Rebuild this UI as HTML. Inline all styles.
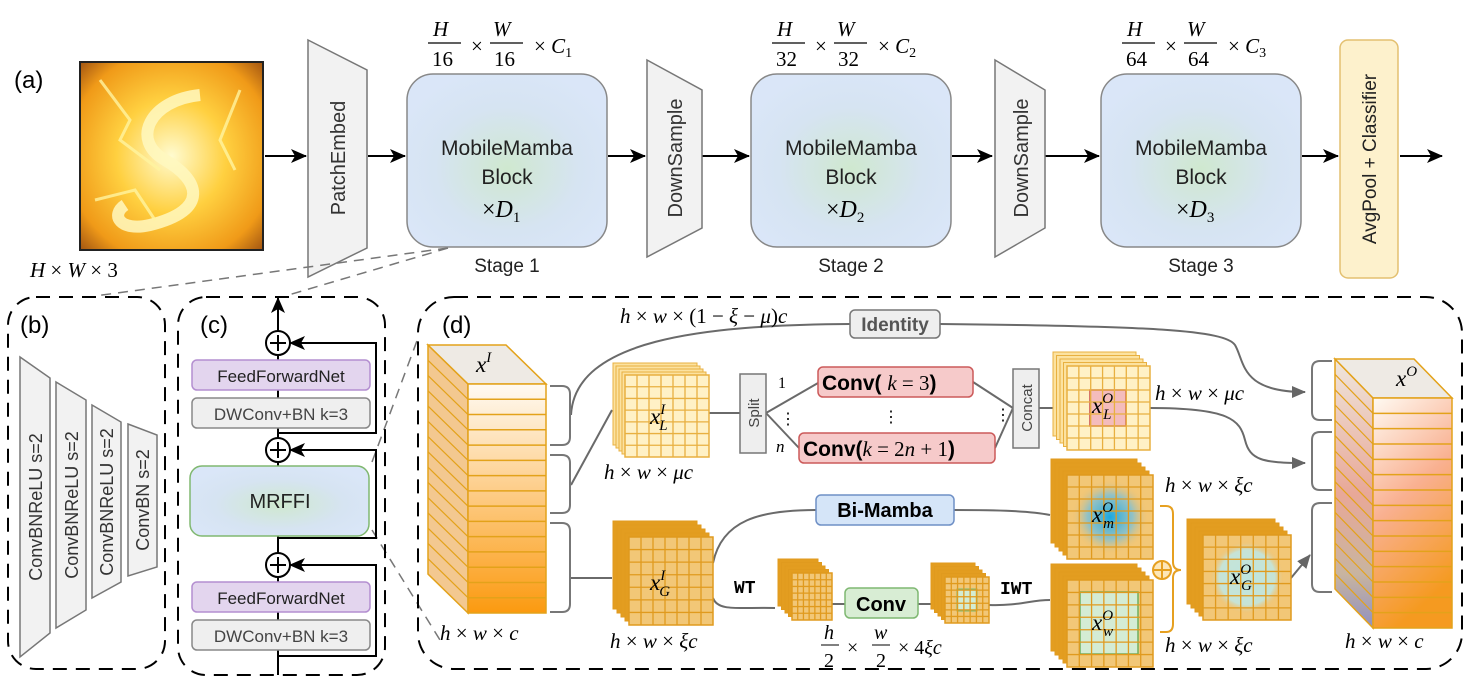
<!DOCTYPE html>
<html><head><meta charset="utf-8"><style>
html,body{margin:0;padding:0;background:#fff}
svg{display:block}
.s{font-family:"Liberation Sans",sans-serif}
.m{font-family:"Liberation Serif",serif;font-style:italic}
.r{font-family:"Liberation Serif",serif}
</style></head><body>
<svg id="g" width="1468" height="692" viewBox="0 0 1468 692" xmlns="http://www.w3.org/2000/svg">
<defs>
<radialGradient id="stg" cx="50%" cy="55%" r="60%"><stop offset="0" stop-color="#cfe8cf"/><stop offset="0.6" stop-color="#d6e4f2"/><stop offset="1" stop-color="#dae6f8"/></radialGradient>
<radialGradient id="img" cx="50%" cy="50%" r="75%"><stop offset="0" stop-color="#fffbd0"/><stop offset="0.4" stop-color="#ffd040"/><stop offset="0.75" stop-color="#f09a18"/><stop offset="1" stop-color="#8a4010"/></radialGradient>
<linearGradient id="xi" x1="0" y1="0" x2="0" y2="1"><stop offset="0" stop-color="#fffaf2"/><stop offset="1" stop-color="#fb9a10"/></linearGradient>
<linearGradient id="xo" x1="0" y1="0" x2="0.3" y2="1"><stop offset="0" stop-color="#fffaf2"/><stop offset="0.5" stop-color="#f9b090"/><stop offset="1" stop-color="#f59a20"/></linearGradient>
<linearGradient id="xos" x1="0" y1="0" x2="0" y2="1"><stop offset="0" stop-color="#efe6dc"/><stop offset="0.5" stop-color="#e8a898"/><stop offset="0.8" stop-color="#c8b4a0"/><stop offset="1" stop-color="#9090c0"/></linearGradient>
<radialGradient id="blu" cx="50%" cy="50%" r="50%"><stop offset="0" stop-color="#1aa8e0"/><stop offset="0.6" stop-color="#7cc0d8" stop-opacity="0.8"/><stop offset="1" stop-color="#f0c070" stop-opacity="0"/></radialGradient>
<radialGradient id="gg" cx="50%" cy="50%" r="50%"><stop offset="0" stop-color="#bfe6df"/><stop offset="0.75" stop-color="#c6e3d6"/><stop offset="1" stop-color="#f0c070" stop-opacity="0"/></radialGradient>
<marker id="ar" markerWidth="16" markerHeight="14" refX="15" refY="7" orient="auto" markerUnits="userSpaceOnUse"><path d="M0,0 L16,7 L0,14 L4,7 z" fill="#000"/></marker>
<marker id="ag" markerWidth="14" markerHeight="12" refX="13" refY="6" orient="auto" markerUnits="userSpaceOnUse"><path d="M0,0 L14,6 L0,12 z" fill="#666"/></marker>
</defs>

<text x="14" y="88" class="s" font-size="24">(a)</text>
<rect x="80" y="62" width="183" height="188" fill="url(#img)" stroke="#222" stroke-width="2"/>
<path d="M200,95 C150,100 130,140 165,160 C200,180 210,210 150,225 C120,232 110,215 125,205" stroke="#fff8c0" stroke-width="12" fill="none" opacity="0.85"/>
<path d="M100,80 l30,40 -10,20 40,30 M240,90 l-20,50 15,30 M95,200 l40,-10 20,30" stroke="#fff4a0" stroke-width="3" fill="none" opacity="0.8"/>
<text x="30" y="277" class="m" font-size="21">H <tspan class="r" font-style="normal">×</tspan> W <tspan class="r" font-style="normal">× 3</tspan></text>

<g stroke="#000" stroke-width="2" marker-end="url(#ar)">
<line x1="265" y1="156" x2="306" y2="156"/>
<line x1="368" y1="156" x2="405" y2="156"/>
<line x1="608" y1="156" x2="645" y2="156"/>
<line x1="702" y1="156" x2="749" y2="156"/>
<line x1="952" y1="156" x2="992" y2="156"/>
<line x1="1045" y1="156" x2="1099" y2="156"/>
<line x1="1302" y1="156" x2="1338" y2="156"/>
<line x1="1400" y1="156" x2="1442" y2="156"/>
</g>

<polygon points="308,40 367,70 367,248 308,277" fill="#f2f2f2" stroke="#777" stroke-width="1.5"/>
<text transform="translate(345,158) rotate(-90)" text-anchor="middle" class="s" font-size="20" fill="#333">PatchEmbed</text>
<polygon points="647,60 702,90 702,228 647,257" fill="#f2f2f2" stroke="#777" stroke-width="1.5"/>
<text transform="translate(682,158) rotate(-90)" text-anchor="middle" class="s" font-size="20" fill="#333">DownSample</text>
<polygon points="995,60 1045,90 1045,228 995,257" fill="#f2f2f2" stroke="#777" stroke-width="1.5"/>
<text transform="translate(1028,158) rotate(-90)" text-anchor="middle" class="s" font-size="20" fill="#333">DownSample</text>

<rect x="1340" y="40" width="58" height="238" rx="8" fill="#fdf1cc" stroke="#e3c070" stroke-width="1.5"/>
<text transform="translate(1376,159) rotate(-90)" text-anchor="middle" class="s" font-size="19" fill="#222">AvgPool + Classifier</text>

<g stroke="#777" stroke-width="1.5" stroke-dasharray="10,7" fill="none">
<line x1="448" y1="248" x2="95" y2="296"/>
<line x1="448" y1="248" x2="285" y2="296"/>
<line x1="372" y1="462" x2="418" y2="338"/>
<line x1="372" y1="530" x2="440" y2="640"/>
</g>

<rect x="8" y="297" width="157" height="372" rx="28" fill="none" stroke="#000" stroke-width="2" stroke-dasharray="14,9"/>
<text x="20" y="333" class="s" font-size="24">(b)</text>
<g fill="#f2f2f2" stroke="#777" stroke-width="1.5">
<polygon points="20,357 50,378 50,633 20,657"/>
<polygon points="56,382 86,400 86,610 56,628"/>
<polygon points="92,405 121,422 121,582 92,598"/>
<polygon points="128,424 157,435 157,567 128,576"/>
</g>
<g class="s" font-size="18" fill="#333" text-anchor="middle">
<text transform="translate(42,507) rotate(-90)">ConvBNReLU s=2</text>
<text transform="translate(78,505) rotate(-90)">ConvBNReLU s=2</text>
<text transform="translate(113,502) rotate(-90)">ConvBNReLU s=2</text>
<text transform="translate(149,500) rotate(-90)">ConvBN s=2</text>
</g>

<rect x="178" y="297" width="207" height="378" rx="28" fill="none" stroke="#000" stroke-width="2" stroke-dasharray="14,9"/>
<text x="200" y="333" class="s" font-size="24">(c)</text>
<g stroke="#000" stroke-width="2" fill="none">
<line x1="278" y1="331" x2="278" y2="298" marker-end="url(#ar)"/>
<line x1="278" y1="355" x2="278" y2="438"/>
<line x1="278" y1="462" x2="278" y2="553"/>
<line x1="278" y1="577" x2="278" y2="675"/>
<polyline points="278,433 376,433 376,343 290,343" marker-end="url(#ar)"/>
<polyline points="278,538 376,538 376,450 290,450" marker-end="url(#ar)"/>
<polyline points="278,656 376,656 376,565 290,565" marker-end="url(#ar)"/>
</g>
<g fill="#fff" stroke="#000" stroke-width="2">
<circle cx="278" cy="343" r="12"/><circle cx="278" cy="450" r="12"/><circle cx="278" cy="565" r="12"/>
</g>
<g stroke="#000" stroke-width="2">
<path d="M270,343h16M278,335v16M270,450h16M278,442v16M270,565h16M278,557v16"/>
</g>
<rect x="192" y="360" width="178" height="30" rx="5" fill="#e3d5ee" stroke="#b48fd0" stroke-width="1.5"/>
<text x="281" y="382" text-anchor="middle" class="s" font-size="17" fill="#222">FeedForwardNet</text>
<rect x="192" y="398" width="178" height="30" rx="5" fill="#efefef" stroke="#888" stroke-width="1.5"/>
<text x="281" y="420" text-anchor="middle" class="s" font-size="17" fill="#444">DWConv+BN k=3</text>
<rect x="190" y="466" width="179" height="70" rx="12" fill="url(#stg)" stroke="#80b870" stroke-width="1.5"/>
<text x="280" y="508" text-anchor="middle" class="s" font-size="20" fill="#222">MRFFI</text>
<rect x="192" y="582" width="178" height="30" rx="5" fill="#e3d5ee" stroke="#b48fd0" stroke-width="1.5"/>
<text x="281" y="604" text-anchor="middle" class="s" font-size="17" fill="#222">FeedForwardNet</text>
<rect x="192" y="620" width="178" height="30" rx="5" fill="#efefef" stroke="#888" stroke-width="1.5"/>
<text x="281" y="642" text-anchor="middle" class="s" font-size="17" fill="#444">DWConv+BN k=3</text>

<rect x="418" y="297" width="1044" height="372" rx="36" fill="none" stroke="#000" stroke-width="2" stroke-dasharray="14,9"/>
<text x="442" y="333" class="s" font-size="24">(d)</text>

<g stroke="#6a6a6a" stroke-width="2" fill="none">
<path d="M571,415 C575,340 700,325 850,324"/>
<path d="M940,324 C1150,326 1225,330 1235,345 C1245,362 1240,392 1305,392" marker-end="url(#ag)"/>
<path d="M1150,408 C1230,408 1240,420 1245,440 C1250,460 1262,463 1305,463" marker-end="url(#ag)"/>
<line x1="571" y1="485" x2="612" y2="410"/>
<line x1="571" y1="578" x2="612" y2="578"/>
<line x1="709" y1="413" x2="740" y2="413"/>
<line x1="766" y1="413" x2="818" y2="383"/>
<line x1="766" y1="413" x2="799" y2="448"/>
<line x1="973" y1="382" x2="1013" y2="408"/>
<line x1="995" y1="448" x2="1013" y2="408"/>
<line x1="1039" y1="408" x2="1053" y2="408"/>
<path d="M713,563 C722,520 760,510 816,510"/>
<path d="M954,510 C1000,510 1030,511 1050,515"/>
<path d="M713,598 C718,612 740,607 775,608"/>
<line x1="832" y1="604" x2="845" y2="604"/>
<line x1="918" y1="604" x2="935" y2="604"/>
<path d="M989,605 C1020,606 1030,600 1050,600"/>
<line x1="1291" y1="578" x2="1310" y2="555" marker-end="url(#ag)"/>
</g>
<g stroke="#777" stroke-width="2" fill="none">
<path d="M550,386 h12 q8,0 8,8 v43 q0,8 -8,8 h-12"/>
<path d="M550,455 h12 q8,0 8,8 v42 q0,8 -8,8 h-12"/>
<path d="M550,523 h12 q8,0 8,8 v73 q0,8 -8,8 h-12"/>
<path d="M1332,361 h-12 q-8,0 -8,8 v43 q0,8 8,8 h12"/>
<path d="M1332,432 h-12 q-8,0 -8,8 v42 q0,8 8,8 h12"/>
<path d="M1332,503 h-12 q-8,0 -8,8 v73 q0,8 8,8 h12"/>
</g>
<path d="M1160,506 h6 q7,0 7,8 v48 q0,8 8,8 q-8,0 -8,8 v46 q0,8 -7,8 h-6" stroke="#e6a020" stroke-width="2" fill="none"/>
<circle cx="1162" cy="570" r="9" fill="#fde7b8" stroke="#e6a020" stroke-width="2"/>
<path d="M1153,570h18M1162,561v18" stroke="#e6a020" stroke-width="2"/>

<g id="cubes"></g>

<rect x="850" y="310" width="90" height="28" rx="5" fill="#eee" stroke="#777" stroke-width="1.5"/>
<text x="895" y="331" text-anchor="middle" class="s" font-size="19" font-weight="bold" fill="#555">Identity</text>
<rect x="740" y="374" width="26" height="79" fill="#eee" stroke="#777" stroke-width="1.5"/>
<text transform="translate(759,413) rotate(-90)" text-anchor="middle" class="s" font-size="15" fill="#444">Split</text>
<rect x="818" y="367" width="155" height="30" rx="5" fill="#f6caca" stroke="#cc5a5a" stroke-width="1.5"/>
<text x="822" y="390" class="s" font-size="21" font-weight="bold">Conv( <tspan class="m" font-weight="normal">k</tspan><tspan class="r" font-weight="normal"> = 3</tspan>)</text>
<rect x="799" y="433" width="196" height="30" rx="5" fill="#f6caca" stroke="#cc5a5a" stroke-width="1.5"/>
<text x="803" y="456" class="s" font-size="21" font-weight="bold">Conv(<tspan class="m" font-weight="normal">k</tspan><tspan class="r" font-weight="normal"> = 2</tspan><tspan class="m" font-weight="normal">n</tspan><tspan class="r" font-weight="normal"> + 1</tspan>)</text>
<rect x="1013" y="369" width="26" height="79" fill="#eee" stroke="#777" stroke-width="1.5"/>
<text transform="translate(1032,408) rotate(-90)" text-anchor="middle" class="s" font-size="15" fill="#444">Concat</text>
<rect x="816" y="495" width="138" height="30" rx="5" fill="#d5e5f8" stroke="#6f90c6" stroke-width="1.5"/>
<text x="885" y="517" text-anchor="middle" class="s" font-size="20" font-weight="bold">Bi-Mamba</text>
<rect x="845" y="588" width="73" height="30" rx="5" fill="#d8edd4" stroke="#7fb872" stroke-width="1.5"/>
<text x="881" y="611" text-anchor="middle" class="s" font-size="20" font-weight="bold">Conv</text>

<g class="r" font-size="21">
<text x="620" y="323"><tspan class="m">h</tspan> × <tspan class="m">w</tspan> × (1 − <tspan class="m">ξ</tspan> − <tspan class="m">μ</tspan>)<tspan class="m">c</tspan></text>
<text x="440" y="640"><tspan class="m">h</tspan> × <tspan class="m">w</tspan> × <tspan class="m">c</tspan></text>
<text x="604" y="479"><tspan class="m">h</tspan> × <tspan class="m">w</tspan> × <tspan class="m">μc</tspan></text>
<text x="610" y="648"><tspan class="m">h</tspan> × <tspan class="m">w</tspan> × <tspan class="m">ξc</tspan></text>
<text x="1155" y="400"><tspan class="m">h</tspan> × <tspan class="m">w</tspan> × <tspan class="m">μc</tspan></text>
<text x="1165" y="492"><tspan class="m">h</tspan> × <tspan class="m">w</tspan> × <tspan class="m">ξc</tspan></text>
<text x="1165" y="652"><tspan class="m">h</tspan> × <tspan class="m">w</tspan> × <tspan class="m">ξc</tspan></text>
<text x="1345" y="648"><tspan class="m">h</tspan> × <tspan class="m">w</tspan> × <tspan class="m">c</tspan></text>
<text x="778" y="388" font-size="16">1</text>
<text x="776" y="452" class="m" font-size="17">n</text>
<text x="780" y="424" font-size="16">⋮</text>
<text x="883" y="422" font-size="16">⋮</text>
<text x="995" y="420" font-size="16">⋮</text>
<text x="824" y="639" class="m" font-size="20">h</text><line x1="821" y1="645" x2="839" y2="645" stroke="#000"/><text x="824" y="667" font-size="20">2</text>
<text x="847" y="654" font-size="20">×</text>
<text x="874" y="639" class="m" font-size="20">w</text><line x1="872" y1="645" x2="890" y2="645" stroke="#000"/><text x="876" y="667" font-size="20">2</text>
<text x="898" y="654" font-size="20">× 4<tspan class="m">ξc</tspan></text>
</g>
<text x="734" y="593" font-family="Liberation Mono,monospace" font-size="18" font-weight="bold">WT</text>
<text x="1000" y="594" font-family="Liberation Mono,monospace" font-size="18" font-weight="bold">IWT</text>
<g class="m" font-size="23">
<text x="476" y="372">x<tspan font-size="15" dy="-10">I</tspan></text>
<text x="1396" y="386">x<tspan font-size="15" dy="-10">O</tspan></text>
<text x="650" y="424">x<tspan font-size="15" dy="-10">I</tspan><tspan font-size="15" dx="-6" dy="16">L</tspan></text>
<text x="650" y="590">x<tspan font-size="15" dy="-10">I</tspan><tspan font-size="15" dx="-6" dy="16">G</tspan></text>
<text x="1092" y="413">x<tspan font-size="15" dy="-10">O</tspan><tspan font-size="15" dx="-10" dy="16">L</tspan></text>
<text x="1092" y="522">x<tspan font-size="15" dy="-10">O</tspan><tspan font-size="15" dx="-10" dy="16">m</tspan></text>
<text x="1092" y="630">x<tspan font-size="15" dy="-10">O</tspan><tspan font-size="15" dx="-10" dy="16">w</tspan></text>
<text x="1230" y="584">x<tspan font-size="15" dy="-10">O</tspan><tspan font-size="15" dx="-10" dy="16">G</tspan></text>
</g>

<g class="r" font-size="21">
<text x="433" y="36" class="m">H</text><line x1="428" y1="43" x2="461" y2="43" stroke="#000" stroke-width="1.2"/><text x="432" y="66">16</text>
<text x="471" y="53">×</text>
<text x="493" y="36" class="m">W</text><line x1="490" y1="43" x2="523" y2="43" stroke="#000" stroke-width="1.2"/><text x="494" y="66">16</text>
<text x="534" y="53">× <tspan class="m">C</tspan><tspan font-size="14" dy="4">1</tspan></text>

<text x="777" y="36" class="m">H</text><line x1="772" y1="43" x2="805" y2="43" stroke="#000" stroke-width="1.2"/><text x="776" y="66">32</text>
<text x="815" y="53">×</text>
<text x="837" y="36" class="m">W</text><line x1="834" y1="43" x2="867" y2="43" stroke="#000" stroke-width="1.2"/><text x="838" y="66">32</text>
<text x="878" y="53">× <tspan class="m">C</tspan><tspan font-size="14" dy="4">2</tspan></text>

<text x="1127" y="36" class="m">H</text><line x1="1122" y1="43" x2="1155" y2="43" stroke="#000" stroke-width="1.2"/><text x="1126" y="66">64</text>
<text x="1165" y="53">×</text>
<text x="1187" y="36" class="m">W</text><line x1="1184" y1="43" x2="1217" y2="43" stroke="#000" stroke-width="1.2"/><text x="1188" y="66">64</text>
<text x="1228" y="53">× <tspan class="m">C</tspan><tspan font-size="14" dy="4">3</tspan></text>
</g>

<rect x="407" y="74" width="200" height="173" rx="26" fill="url(#stg)" stroke="#888" stroke-width="1.5"/>
<rect x="751" y="74" width="200" height="173" rx="26" fill="url(#stg)" stroke="#888" stroke-width="1.5"/>
<rect x="1101" y="74" width="200" height="173" rx="26" fill="url(#stg)" stroke="#888" stroke-width="1.5"/>
<g class="s" font-size="21" text-anchor="middle" fill="#222">
<text x="507" y="155">MobileMamba</text><text x="507" y="184">Block</text>
<text x="851" y="155">MobileMamba</text><text x="851" y="184">Block</text>
<text x="1201" y="155">MobileMamba</text><text x="1201" y="184">Block</text>
<text x="507" y="272" font-size="19">Stage 1</text>
<text x="851" y="272" font-size="19">Stage 2</text>
<text x="1201" y="272" font-size="19">Stage 3</text>
</g>
<g class="r" font-size="24">
<text x="482" y="217">×<tspan class="m">D</tspan><tspan font-size="15" dy="5">1</tspan></text>
<text x="826" y="217">×<tspan class="m">D</tspan><tspan font-size="15" dy="5">2</tspan></text>
<text x="1176" y="217">×<tspan class="m">D</tspan><tspan font-size="15" dy="5">3</tspan></text>
</g>
</svg>
<script>
(function(){
var NS="http://www.w3.org/2000/svg",g=document.getElementById("cubes");
function el(t,a,p){var e=document.createElementNS(NS,t);for(var k in a)e.setAttribute(k,a[k]);(p||g).appendChild(e);return e;}
function block(x0,y0,fx1,fy1,fx2,fy2,fill,side,top){
 var dx=fx1-x0,dy=fy1-y0,n=15,h=(fy2-fy1)/n;
 el("polygon",{points:[x0,y0,fx1,fy1,fx1,fy2,x0,fy2-dy].join(","),fill:side,stroke:"#e3a21a","stroke-width":1.5});
 for(var i=1;i<n;i++){el("line",{x1:x0,y1:y0+i*h,x2:fx1,y2:fy1+i*h,stroke:"#e3a21a","stroke-width":1.2});}
 el("polygon",{points:[x0,y0,x0+(fx2-fx1),y0,fx2,fy1,fx1,fy1].join(","),fill:top,stroke:"#e3a21a","stroke-width":1.5});
 el("rect",{x:fx1,y:fy1,width:fx2-fx1,height:fy2-fy1,fill:fill,stroke:"#e3a21a","stroke-width":1.5});
 for(var i=1;i<n;i++){el("line",{x1:fx1,y1:fy1+i*h,x2:fx2,y2:fy1+i*h,stroke:"#e3a21a","stroke-width":1.5});}
}
block(428,345,468,384,546,613,"url(#xi)","#f3c890","#eeeae4");
block(1335,359,1373,398,1452,628,"url(#xo)","url(#xos)","#eeeae4");
function cube(x1,y1,x2,y2,d,face,line,back,inner){
 var L=4;
 for(var i=L;i>=1;i--){var o=i*d/L;
  el("rect",{x:x1-o,y:y1-o,width:x2-x1,height:y2-y1,fill:back,stroke:line,"stroke-width":1});}
 el("rect",{x:x1,y:y1,width:x2-x1,height:y2-y1,fill:face,stroke:line,"stroke-width":1.5});
 if(inner)inner();
 var n=7,w=(x2-x1)/n,h=(y2-y1)/n;
 for(var i=1;i<n;i++){
  el("line",{x1:x1+i*w,y1:y1,x2:x1+i*w,y2:y2,stroke:line,"stroke-width":1.3});
  el("line",{x1:x1,y1:y1+i*h,x2:x2,y2:y1+i*h,stroke:line,"stroke-width":1.3});}
}
cube(625,375,709,457,12,"#fff1c6","#e8b040","#fce2a0");
cube(629,537,713,625,16,"#f2c777","#e09a1e","#e39d20");
cube(792,573,832,620,14,"#f2c777","#e09a1e","#e39d20");
cube(945,577,989,623,14,"#f2c777","#e09a1e","#e39d20",function(){el("rect",{x:957,y:589,width:20,height:22,fill:"#d3ecd2",stroke:"#7cb86c"});});
cube(1067,366,1150,450,14,"#fff1c6","#e8b040","#fce2a0",function(){el("rect",{x:1090,y:390,width:36,height:36,fill:"#f4bcbc",stroke:"#c84a4a","stroke-width":1.5});});
cube(1067,475,1153,559,16,"#f2c777","#e09a1e","#e39d20",function(){el("rect",{x:1072,y:480,width:76,height:74,fill:"url(#blu)"});});
cube(1067,580,1153,667,16,"#f2c777","#e09a1e","#e39d20",function(){el("rect",{x:1080,y:592,width:58,height:62,fill:"#d4ecd4",stroke:"#6fae5f","stroke-width":1.5});});
cube(1203,535,1291,620,16,"#f2c777","#e09a1e","#e39d20",function(){el("rect",{x:1210,y:541,width:74,height:73,fill:"url(#gg)"});});
})();
</script>
</body></html>
